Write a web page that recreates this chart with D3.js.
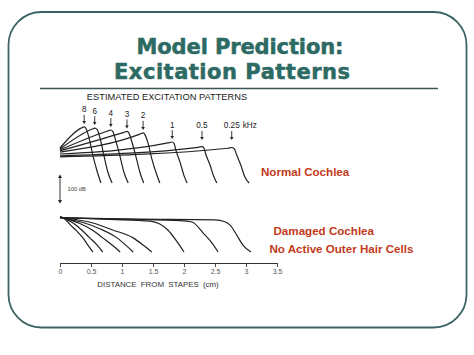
<!DOCTYPE html>
<html><head><meta charset="utf-8">
<script src="https://cdn.jsdelivr.net/npm/d3@7"></script>
<style>body{margin:0;background:#fff}</style>
</head><body><svg id="c" width="474" height="355"></svg>
<script>
// Frequencies (kHz) of the modelled tones
const freqLabels = ["8", "6", "4", "3", "2", "1", "0.5", "0.25"];
// Normal cochlea: [distance from stapes (cm), level (dB)]
const normal8   = [[0,150],[0.34,233],[0.39,238],[0.42,231],[0.47,190],[0.53,119],[0.6,52],[0.66,4]];
const normal6   = [[0,146],[0.52,229],[0.56,233],[0.6,227],[0.65,187],[0.71,117],[0.77,51],[0.84,4]];
const normal4   = [[0,142],[0.77,221],[0.82,225],[0.85,219],[0.9,180],[0.97,113],[1.03,50],[1.1,4]];
const normal3   = [[0,138],[1.03,215],[1.08,219],[1.11,213],[1.16,175],[1.23,109],[1.29,48],[1.35,4]];
const normal2   = [[0,133],[1.29,208],[1.34,213],[1.37,206],[1.42,170],[1.48,106],[1.55,47],[1.61,4]];
const normal1   = [[0,125],[1.74,171],[1.81,175],[1.84,169],[1.87,140],[1.94,88],[2.0,35],[2.05,4]];
const normal05  = [[0,117],[2.23,153],[2.29,156],[2.32,151],[2.35,125],[2.42,79],[2.48,31],[2.53,4]];
const normal025 = [[0,113],[2.71,149],[2.77,152],[2.81,147],[2.85,121],[2.92,76],[2.98,30],[3.05,4]];
// Damaged cochlea (no active outer hair cells)
const damaged8   = [[0,152],[0.08,142],[0.16,119],[0.27,92],[0.37,63],[0.45,33],[0.53,4]];
const damaged6   = [[0,150],[0.1,140],[0.21,125],[0.35,96],[0.48,63],[0.6,33],[0.69,4]];
const damaged4   = [[0,150],[0.16,138],[0.32,123],[0.52,96],[0.69,63],[0.84,33],[0.97,4]];
const damaged3   = [[0,150],[0.19,138],[0.37,127],[0.65,100],[0.92,63],[1.06,33],[1.18,4]];
const damaged2   = [[0,150],[0.24,140],[0.53,125],[0.85,96],[1.18,63],[1.34,33],[1.48,4]];
const damaged1   = [[0,148],[0.81,140],[1.45,133],[1.61,121],[1.74,96],[1.89,46],[2.0,4]];
const damaged05  = [[0,146],[1.13,140],[1.94,135],[2.13,129],[2.31,83],[2.45,42],[2.55,4]];
const damaged025 = [[0,146],[1.29,141],[2.5,138],[2.65,131],[2.74,117],[2.85,75],[2.95,33],[3.08,4]];
const normalCurves  = [normal8, normal6, normal4, normal3, normal2, normal1, normal05, normal025];
const damagedCurves = [damaged8, damaged6, damaged4, damaged3, damaged2, damaged1, damaged05, damaged025];
// Axis
const xTicks = [0, 0.5, 1, 1.5, 2, 2.5, 3, 3.5];
const xTickLabels = ["0", "0.5", "1", "1.5", "2", "2.5", "3", "3.5"];
const scaleBarDb = 100;

const svg = d3.select("#c");
svg.append("rect").attr("width", 474).attr("height", 355).attr("fill", "#fff");

// slide frame
svg.append("rect").attr("x", 8.5).attr("y", 12).attr("width", 458).attr("height", 315.5)
  .attr("rx", 33).attr("ry", 33).attr("fill", "none").attr("stroke", "#3c6464").attr("stroke-width", 1.8);

// title
const teal = "#2c6a63";
svg.append("text").attr("x", 240).attr("y", 54).attr("text-anchor", "middle")
  .attr("font-family", "DejaVu Sans").attr("font-weight", "bold").attr("font-size", 21)
  .attr("textLength", 207).attr("lengthAdjust", "spacing")
  .attr("fill", teal).attr("stroke", teal).attr("stroke-width", 0.5).text("Model Prediction:");
svg.append("text").attr("x", 232).attr("y", 79).attr("text-anchor", "middle")
  .attr("font-family", "DejaVu Sans").attr("font-weight", "bold").attr("font-size", 21)
  .attr("textLength", 236).attr("lengthAdjust", "spacing")
  .attr("fill", teal).attr("stroke", teal).attr("stroke-width", 0.5).text("Excitation Patterns");
svg.append("line").attr("x1", 40).attr("x2", 438).attr("y1", 88.5).attr("y2", 88.5)
  .attr("stroke", "#3a5656").attr("stroke-width", 1.5);

// scales
const x = d3.scaleLinear().domain([0, 3.5]).range([60, 277]);
const yN = d3.scaleLinear().domain([0, 100]).range([184, 160]);
const yD = d3.scaleLinear().domain([0, 100]).range([253, 229]);

const font = "Liberation Sans, Arial, sans-serif";
svg.append("text").attr("x", 167).attr("y", 100).attr("text-anchor", "middle")
  .attr("font-family", font).attr("font-size", 9.3).attr("fill", "#222")
  .text("ESTIMATED EXCITATION PATTERNS");

const lineN = d3.line().x(d => x(d[0])).y(d => yN(d[1])).curve(d3.curveMonotoneX);
const lineD = d3.line().x(d => x(d[0])).y(d => yD(d[1])).curve(d3.curveMonotoneX);

svg.append("g").selectAll("path").data(normalCurves).join("path")
  .attr("d", lineN).attr("fill", "none").attr("stroke", "#222").attr("stroke-width", 1.2);
svg.append("g").selectAll("path").data(damagedCurves).join("path")
  .attr("d", lineD).attr("fill", "none").attr("stroke", "#222").attr("stroke-width", 1.2);

// frequency arrows
const ag = svg.append("g");
normalCurves.forEach((c, i) => {
  const pk = c[d3.maxIndex(c, d => d[1])];
  const px = x(pk[0]);
  const tip = yN(Math.max(pk[1], 171)) - 3;
  ag.append("line").attr("x1", px).attr("x2", px).attr("y1", tip - 9).attr("y2", tip - 2)
    .attr("stroke", "#222").attr("stroke-width", 0.9);
  ag.append("path").attr("d", `M${px - 1.8},${tip - 3}L${px + 1.8},${tip - 3}L${px},${tip}Z`).attr("fill", "#222");
  ag.append("text").attr("x", px).attr("y", tip - 11.5).attr("text-anchor", "middle")
    .attr("font-family", font).attr("font-size", 8.2).attr("fill", "#222").text(freqLabels[i]);
  if (i === normalCurves.length - 1) {
    ag.append("text").attr("x", px + 11).attr("y", tip - 11.5)
      .attr("font-family", font).attr("font-size", 8.2).attr("fill", "#222").text("kHz");
  }
});

// 100 dB scale bar
const barTop = 177, barBot = barTop + (yN(0) - yN(scaleBarDb));
svg.append("line").attr("x1", 60).attr("x2", 60).attr("y1", barTop).attr("y2", barBot)
  .attr("stroke", "#222").attr("stroke-width", 0.9);
svg.append("path").attr("d", `M58,${barTop + 1}L62,${barTop + 1}L60,${barTop - 2.5}Z`).attr("fill", "#222");
svg.append("path").attr("d", `M58,${barBot - 1}L62,${barBot - 1}L60,${barBot + 2.5}Z`).attr("fill", "#222");
svg.append("text").attr("x", 67.5).attr("y", (barTop + barBot) / 2 + 2).attr("font-family", font)
  .attr("font-size", 5.8).attr("fill", "#444").text(scaleBarDb + " dB");

// x axis
const ax = svg.append("g").attr("transform", "translate(0,263)")
  .call(d3.axisBottom(x).tickValues(xTicks).tickFormat((d, i) => xTickLabels[i]).tickSize(4).tickSizeOuter(0));
ax.select(".domain").attr("stroke", "#333").attr("stroke-width", 1);
ax.selectAll(".tick line").attr("stroke", "#333").attr("stroke-width", 0.9);
ax.selectAll(".tick text").attr("font-family", font).attr("font-size", 7).attr("fill", "#555").attr("y", 6);
svg.append("text").attr("x", 158).attr("y", 287).attr("text-anchor", "middle")
  .attr("font-family", font).attr("font-size", 7.9).attr("word-spacing", 2).attr("fill", "#333")
  .text("DISTANCE FROM STAPES (cm)");

// annotations
const red = "#c13a1c";
const ann = [["Normal Cochlea", 261, 175.5], ["Damaged Cochlea", 273.5, 235], ["No Active Outer Hair Cells", 269.5, 253]];
ann.forEach(a => svg.append("text").attr("x", a[1]).attr("y", a[2]).attr("font-family", font)
  .attr("font-weight", "bold").attr("font-size", 11.6).attr("fill", red).text(a[0]));
</script></body></html>
